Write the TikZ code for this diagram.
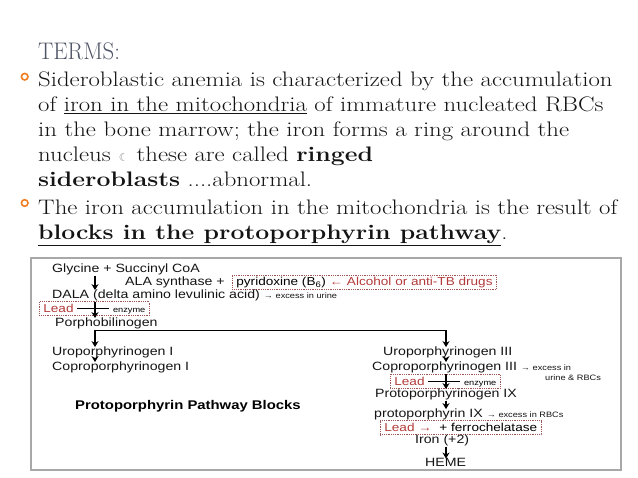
\documentclass[tikz,border=0pt]{standalone}
\usepackage{fontspec}
\setmainfont{Latin Modern Roman}[FakeStretch=1.18]
\newfontfamily\termsfont{Latin Modern Roman}[FakeStretch=0.95]
\newfontfamily\diagfont{Liberation Sans}[FakeStretch=1.18]
\newfontfamily\symfont{DejaVu Sans}
\usetikzlibrary{arrows.meta, positioning, calc}
\definecolor{termgray}{HTML}{4F5566}
\definecolor{bulletorange}{HTML}{F07D22}
\definecolor{blockred}{HTML}{B23A3A}
\definecolor{boxred}{HTML}{A05555}
\definecolor{framegray}{HTML}{A8A8A8}
\newcommand{\notesize}{\fontsize{7.8}{9}\selectfont}

\tikzset{
  txt/.style={anchor=base west, inner sep=0pt, text=black!92, font=\fontsize{21}{25}\selectfont},
  bul/.style={draw=bulletorange, line width=1.6pt},
  chem/.style={anchor=base west, inner sep=0pt, text=black!92, font=\diagfont\fontsize{12}{14}\selectfont},
  note/.style={anchor=base west, inner sep=0pt, text=black!92, font=\diagfont\notesize},
  blockbox/.style={draw=boxred, densely dotted, line width=0.8pt, inner xsep=4pt, inner ysep=0pt,
    minimum height=14pt, text depth=1pt, font=\diagfont\fontsize{11.5}{13}\selectfont},
  flow/.style={-{Stealth[length=6pt,width=7pt]}, line width=1.6pt},
}

\begin{document}
\begin{tikzpicture}[x=1pt, y=-1pt]
    \useasboundingbox (0,0) rectangle (638,478);

    \node[anchor=base west, inner sep=0pt, text=termgray, font=\termsfont\fontsize{24}{28}\selectfont] (terms) at (38,60) {TERMS:};
    \draw[bul] (24.7,76.7) circle (3.3);
    \node[txt] (l1) at (38,87) {Sideroblastic anemia is characterized by the accumulation};
    \node[txt] (l2) at (38,112) {of \underline{iron in the mitochondria} of immature nucleated RBCs};
    \node[txt] (l3) at (38,137) {in the bone marrow; the iron forms a ring around the};
    \node[txt] (l4) at (38,162) {nucleus\hspace{8pt}{\symfont\color{black!45}\fontsize{11}{11}\selectfont ☾}\hspace{8pt}these are called \textbf{ringed}};
    \node[txt] (l5) at (38,187) {\textbf{sideroblasts} ....abnormal.};
    \draw[bul] (24.7,203) circle (3.3);
    \node[txt] (l6) at (38,215) {The iron accumulation in the mitochondria is the result of};
    \node[txt] (l7) at (38,240) {\underline{\textbf{blocks in the protoporphyrin pathway}}.};

    \draw[framegray, line width=1.5pt] (31,258) rectangle (621,470);
    \coordinate (lx) at (95,0);
    \coordinate (rx) at (446,0);

    \node[chem] (gly) at (52,273) {Glycine + Succinyl CoA};
    \node[chem] (alas) at (125,286) {ALA synthase +};
    \node[blockbox, anchor=west] (pyr) at (232,282) {pyridoxine (B\textsubscript{6}) \textcolor{blockred}{← Alcohol or anti-TB drugs}};
    \node[chem] (dala) at (52,299) {DALA (delta amino levulinic acid) {\notesize → excess in urine}};
    \node[blockbox, anchor=north west] (lead1) at (39,301.5) {\textcolor{blockred}{Lead} \rule[3.5pt]{32pt}{0.7pt} {\notesize enzyme}};
    \node[chem] (pbg) at (55,327) {Porphobilinogen};
    \node[chem] (uro1) at (52,356) {Uroporphyrinogen I};
    \node[chem] (copro1) at (52,371) {Coproporphyrinogen I};
    \node[anchor=base west, inner sep=0pt, font=\diagfont\bfseries\fontsize{12.6}{15}\selectfont] (title) at (75,410) {Protoporphyrin Pathway Blocks};

    \node[chem] (uro3) at (383,356) {Uroporphyrinogen III};
    \node[chem] (copro3) at (372,371) {Coproporphyrinogen III {\notesize → excess in}};
    \node[note] (urine) at (545,381) {urine \& RBCs};
    \node[blockbox, anchor=north west] (lead2) at (390,374) {\textcolor{blockred}{Lead} \rule[3.5pt]{32pt}{0.7pt} {\notesize enzyme}};
    \node[chem] (protogen) at (375,398) {Protoporphyrinogen IX};
    \node[chem] (proto) at (374,418) {protoporphyrin IX {\notesize → excess in RBCs}};
    \node[blockbox, anchor=north west] (lead3) at (380,420.5) {\textcolor{blockred}{Lead →} \ + ferrochelatase};
    \node[chem] (iron) at (415,444) {Iron (+2)};
    \node[chem] (heme) at (425,467) {HEME};

    \draw[flow] (gly.south -| lx) -- (dala.north -| lx);
    \draw[flow] (dala.south -| lx) -- (pbg.north -| lx);
    \draw[flow] (pbg.south -| lx) -- (uro1.north -| lx);
    \draw[flow, line width=1.3pt] ([yshift=-1pt]pbg.south -| lx) -| (uro3.north -| rx);
    \draw[flow] (uro1.south -| lx) -- (copro1.north -| lx);
    \draw[flow] (uro3.south -| rx) -- (copro3.north -| rx);
    \draw[flow] (copro3.south -| rx) -- (protogen.north -| rx);
    \draw[flow] (protogen.south -| rx) -- (proto.north -| rx);
    \draw[flow] (iron.south -| rx) -- (heme.north -| rx);
\end{tikzpicture}
\end{document}
